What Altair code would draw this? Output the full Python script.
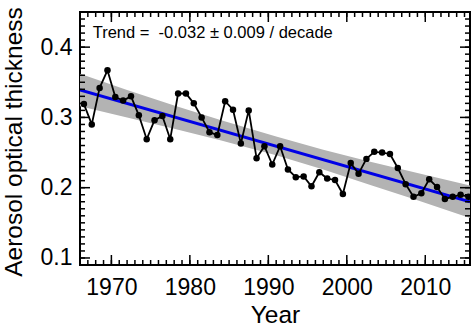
import altair as alt
import pandas as pd

# ---- data ----
years = list(range(1966, 2016))
aod = [0.319, 0.290, 0.342, 0.367, 0.329, 0.324, 0.330, 0.303, 0.269, 0.296,
       0.302, 0.269, 0.334, 0.334, 0.320, 0.300, 0.279, 0.275, 0.323, 0.311,
       0.263, 0.310, 0.242, 0.259, 0.233, 0.259, 0.226, 0.215, 0.216, 0.202,
       0.222, 0.213, 0.211, 0.191, 0.235, 0.220, 0.241, 0.251, 0.250, 0.248,
       0.228, 0.205, 0.187, 0.192, 0.212, 0.201, 0.184, 0.187, 0.190, 0.187]

trend_x = [1966.0, 2015.7]
trend_y = [0.339, 0.180]

band_x = [1966.0, 1972.0, 1978.0, 1984.0, 1991.0, 1997.0, 2003.0, 2009.0, 2015.7]
band_hi = [0.362, 0.339, 0.317, 0.296, 0.273, 0.254, 0.237, 0.221, 0.203]
band_lo = [0.316, 0.300, 0.284, 0.267, 0.246, 0.226, 0.204, 0.182, 0.157]

x_ticks = [1970, 1980, 1990, 2000, 2010]
y_ticks = [0.1, 0.2, 0.3, 0.4]
x_minor = list(range(1966, 2016))
y_minor = [round(0.09 + 0.01 * i, 2) for i in range(37)]

annotation = "Trend =\u00a0\u00a0-0.032 \u00b1 0.009 / decade"

X_DOMAIN = [1966.0, 2015.7]
Y_DOMAIN = [0.09, 0.45]
W, H = 390, 253
FONT = "Liberation Sans"

df = pd.DataFrame({"year": years, "aod": aod})
df_trend = pd.DataFrame({"x": trend_x, "y": trend_y})
df_band = pd.DataFrame({"x": band_x, "hi": band_hi, "lo": band_lo})

xs = alt.Scale(domain=X_DOMAIN, nice=False, zero=False)
ys = alt.Scale(domain=Y_DOMAIN, nice=False, zero=False)

x_axis = alt.Axis(values=x_ticks, format="d", title="Year", grid=False, domain=False,
                  ticks=False, tickSize=0, labelPadding=29, labelBaseline="alphabetic",
                  labelFontSize=23, labelFont=FONT, labelColor="black",
                  titleFontSize=24.5, titleFont=FONT, titleFontWeight="normal",
                  titleColor="black", titleBaseline="alphabetic", titleY=57,
                  titleX=W / 2, labelFlush=False, labelOverlap=False)
y_axis = alt.Axis(values=y_ticks, format=".1f", title="Aerosol optical thickness",
                  grid=False, domain=False, ticks=False, tickSize=0, labelPadding=8,
                  labelFontSize=23, labelFont=FONT, labelColor="black",
                  titleFontSize=24.5, titleFont=FONT, titleFontWeight="normal",
                  titleColor="black", titleAngle=270, titleBaseline="bottom",
                  titleAlign="center", titleX=-54, titleY=H / 2 + 3,
                  labelFlush=False, labelOverlap=False)

band = alt.Chart(df_band).mark_area(color="#b3b3b3", opacity=1, clip=True).encode(
    x=alt.X("x:Q", scale=xs, axis=x_axis),
    y=alt.Y("hi:Q", scale=ys, axis=y_axis),
    y2="lo:Q",
)

trend = alt.Chart(df_trend).mark_line(color="#0000e6", strokeWidth=3, clip=True).encode(
    x=alt.X("x:Q", scale=xs),
    y=alt.Y("y:Q", scale=ys),
)

base = alt.Chart(df).transform_calculate(xpos="datum.year + 0.5")
line = base.mark_line(color="black", strokeWidth=1.8, clip=True).encode(
    x=alt.X("xpos:Q", scale=xs),
    y=alt.Y("aod:Q", scale=ys),
)
pts = base.mark_circle(color="black", opacity=1, size=42, clip=True).encode(
    x=alt.X("xpos:Q", scale=xs),
    y=alt.Y("aod:Q", scale=ys),
)

def yticks(vals, length):
    d = pd.DataFrame({"v": vals})
    left = alt.Chart(d).mark_rule(color="black", strokeWidth=1.5).encode(
        y=alt.Y("v:Q", scale=ys), x=alt.value(0), x2=alt.value(length))
    right = alt.Chart(d).mark_rule(color="black", strokeWidth=1.5).encode(
        y=alt.Y("v:Q", scale=ys), x=alt.value(W - length), x2=alt.value(W))
    return [left, right]

def xticks(vals, length):
    d = pd.DataFrame({"v": vals})
    bottom = alt.Chart(d).mark_rule(color="black", strokeWidth=1.5).encode(
        x=alt.X("v:Q", scale=xs), y=alt.value(H - length), y2=alt.value(H))
    top = alt.Chart(d).mark_rule(color="black", strokeWidth=1.5).encode(
        x=alt.X("v:Q", scale=xs), y=alt.value(0), y2=alt.value(length))
    return [bottom, top]

ticks = yticks(y_ticks, 10) + yticks(y_minor, 5) + xticks(x_ticks, 10) + xticks(x_minor, 5)

text = alt.Chart(pd.DataFrame({"t": [annotation]})).mark_text(
    align="left", baseline="alphabetic", font=FONT, fontSize=16.5, color="black"
).encode(text="t:N", x=alt.value(12.7), y=alt.value(26.3))

chart = alt.layer(band, trend, line, pts, *ticks, text).properties(
    width=W, height=H,
    autosize=alt.AutoSizeParams(type="none"),
    padding={"left": 80, "top": 12, "right": 4, "bottom": 61},
    background="white",
).configure_view(stroke="black", strokeWidth=2)

chart.save("out.html", embed_options={"renderer": "svg", "actions": False})
